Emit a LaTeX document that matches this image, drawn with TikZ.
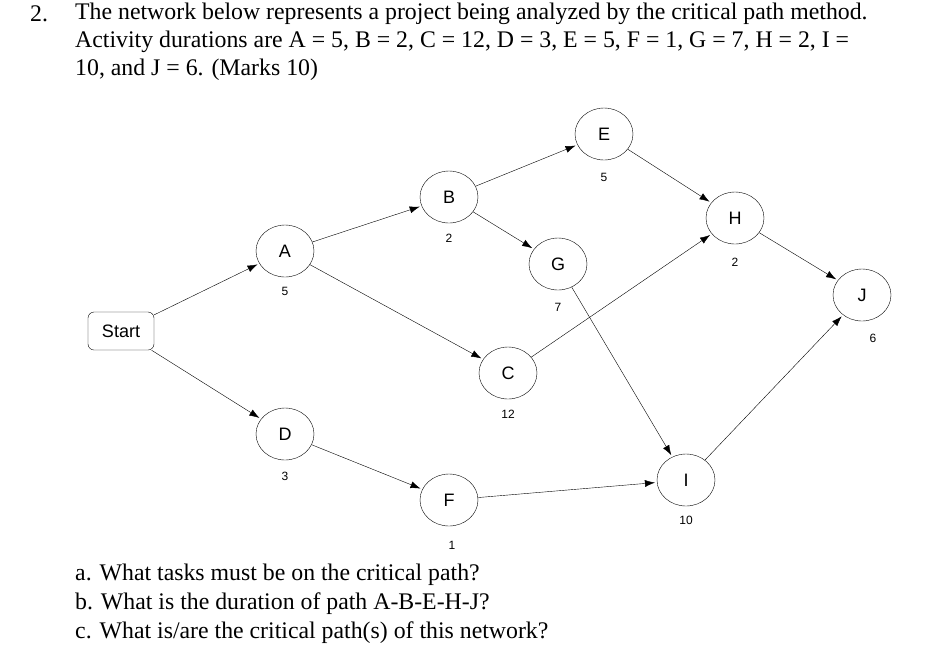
\documentclass[tikz,border=0pt]{standalone}
\usepackage{fontspec}
\setmainfont{Liberation Serif}
\newfontfamily\arial{Liberation Sans}
\usetikzlibrary{shapes.geometric,arrows.meta}
\begin{document}
\begin{tikzpicture}[x=1pt,y=-1pt,
  act/.style={draw,ellipse,minimum width=58pt,minimum height=52pt,inner sep=0pt,font=\arial\fontsize{18}{18}\selectfont},
  dur/.style={font=\arial\fontsize{12}{12}\selectfont},
  link/.style={-{Latex[length=10pt,width=7pt]},shorten >=2pt},
  txt/.style={anchor=west,inner sep=0pt,font=\fontsize{23.8}{28}\selectfont}]
\useasboundingbox (0,0) rectangle (951,649);
\node[txt] (n2) at (30,14) {2.};
\node[txt] (l1) at (75,14) {The network below represents a project being analyzed by the critical path method.};
\node[txt] (l2) at (75,42) {Activity durations are A = 5, B = 2, C = 12, D = 3, E = 5, F = 1, G = 7, H = 2, I =};
\node[txt] (l3) at (75,70) {10, and J = 6. (Marks 10)};
\node[draw,rounded corners=6pt,minimum width=66pt,minimum height=38pt,font=\arial\fontsize{18}{18}\selectfont] (S) at (121,331) {Start};
\node[act] (A) at (285,251) {A}; \node[dur] (dA) at (285,291) {5};
\node[act] (B) at (449,197) {B}; \node[dur] (dB) at (449,238) {2};
\node[act] (E) at (604,134) {E}; \node[dur] (dE) at (604,177) {5};
\node[act] (G) at (558,264) {G}; \node[dur] (dG) at (558,307) {7};
\node[act] (C) at (508,373) {C}; \node[dur] (dC) at (508,414) {12};
\node[act] (D) at (285,434) {D}; \node[dur] (dD) at (285,476) {3};
\node[act] (F) at (449,500) {F}; \node[dur] (dF) at (452,545) {1};
\node[act] (H) at (735,218) {H}; \node[dur] (dH) at (735,262) {2};
\node[act] (I) at (686,480) {I}; \node[dur] (dI) at (686,520) {10};
\node[act] (J) at (862,295) {J}; \node[dur] (dJ) at (873,338) {6};
\foreach \a/\b in {S/A,S/D,A/B,A/C,B/E,B/G,D/F,E/H,G/I,C/H,F/I,H/J,I/J}
  \draw[link] (\a) -- (\b);
\node[txt] (qa) at (75,575) {a. What tasks must be on the critical path?};
\node[txt] (qb) at (75,604) {b. What is the duration of path A-B-E-H-J?};
\node[txt] (qc) at (75,633) {c. What is/are the critical path(s) of this network?};
\end{tikzpicture}
\end{document}
